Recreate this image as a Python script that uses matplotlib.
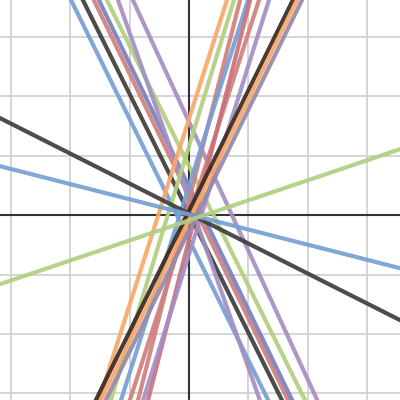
import numpy as np
import matplotlib
matplotlib.use('Agg')
import matplotlib.pyplot as plt

# linhas y = m*x + c
slopes = [-2.03, -2.01, -2.06, -2.07, -2.02, -2.82, -2.17,
          3.13, 3.25, 3.92, 3.15, 3.10, 3.92, 3.18,
          2.03, 2.04, 2.04,
          -0.505, -0.255, 0.3375]
intercepts = [-0.41, 0.03, 0.32, 0.48, 0.83, 0.25, 1.57,
              1.62, 1.16, 0.25, 0.49, -0.03, -0.41, -0.66,
              0.07, -0.09, -0.26,
              0.027, 0.013, -0.088]
colors = ['#76a0d4', '#3d3d3d', '#d07f7c', '#7a80bb', '#b3cf80', '#a48fc2', '#a48fc2',
          '#f8a86a', '#b3cf80', '#d07f7c', '#76a0d4', '#d07f7c', '#c9707a', '#a48fc2',
          '#3a2a20', '#f8a86a', '#958aa8',
          '#3d3d3d', '#76a0d4', '#b3cf80']

xmin, xmax = -3.18, 3.55
ymin, ymax = -3.11, 3.62

fig = plt.figure(figsize=(4, 4), dpi=100)
ax = fig.add_axes([0, 0, 1, 1])

# grade
for g in range(-3, 4):
    ax.axvline(g, color='#d2d2d2', lw=1.3, zorder=0)
    ax.axhline(g, color='#d2d2d2', lw=1.3, zorder=0)
ax.axvline(0, color='#333333', lw=1.5, zorder=1)
ax.axhline(0, color='#333333', lw=1.5, zorder=1)

xs = np.array([xmin - 1, xmax + 1])
for m, c, col in zip(slopes, intercepts, colors):
    ax.plot(xs, m * xs + c, color=col, lw=3, alpha=0.92,
            solid_capstyle='butt', zorder=2)

ax.set_xlim(xmin, xmax)
ax.set_ylim(ymin, ymax)
ax.axis('off')
fig.savefig('out.png', dpi=100)
